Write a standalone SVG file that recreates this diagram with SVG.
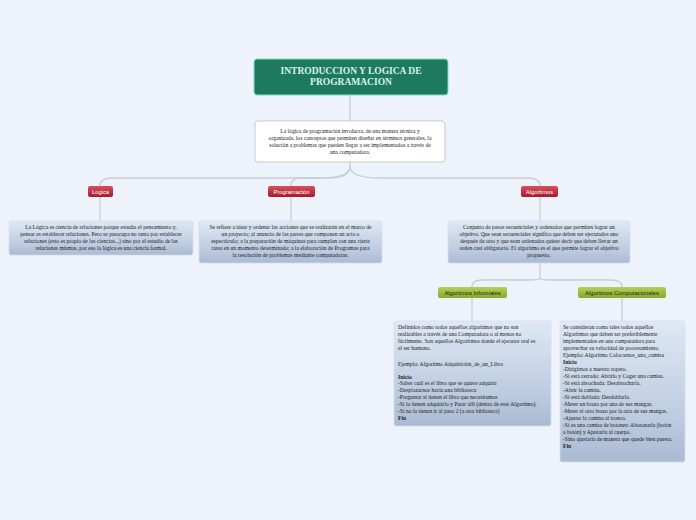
<svg xmlns="http://www.w3.org/2000/svg" width="696" height="520" viewBox="0 0 696 520">
<defs>
<linearGradient id="gb" x1="0" y1="0" x2="0" y2="1"><stop offset="0" stop-color="#dfe8f4"/><stop offset="0.7" stop-color="#bccbe0"/><stop offset="1" stop-color="#a9bad3"/></linearGradient>
<linearGradient id="gr" x1="0" y1="0" x2="0" y2="1"><stop offset="0" stop-color="#d8505e"/><stop offset="1" stop-color="#a8192c"/></linearGradient>
<linearGradient id="gg" x1="0" y1="0" x2="0" y2="1"><stop offset="0" stop-color="#b6cf5a"/><stop offset="1" stop-color="#8aa82a"/></linearGradient>
</defs>
<style>
.t{font-family:"Liberation Serif",serif;font-size:5.6px;fill:#222}
.c{text-anchor:middle}
.l{font-family:"Liberation Sans",sans-serif;font-size:5.8px;text-anchor:middle}
.w{fill:#fff}
.k{fill:#222}
.box{fill:url(#gb);stroke:#d6deea;stroke-width:0.8}
.conn path{fill:none;stroke:#c9cdd4;stroke-width:1.3}
</style>
<rect width="696" height="520" fill="#eef2fb"/>
<g class="conn">
<path d="M350 95V121"/>
<path d="M350 162V166Q350 178 330 178H112Q100 178 100 186"/>
<path d="M350 166Q350 178 320 178H300Q291 178 291 186"/>
<path d="M350 166Q350 178 380 178H528Q540 178 540 186"/>
<path d="M100 197V221"/>
<path d="M291 197V221"/>
<path d="M540 197V221"/>
<path d="M540 263V278Q540 280 530 280H482Q472 280 472 287"/>
<path d="M540 278Q540 280 550 280H612Q622 280 622 287"/>
<path d="M472 298V321"/>
<path d="M622 298V321"/>
</g>
<g id="title"><rect x="254" y="59" width="194" height="36" rx="3" fill="#1d7a5f" stroke="#7fe0c0" stroke-width="1"/>
<text x="351" y="74" font-family="Liberation Serif,serif" font-size="9.5" font-weight="bold" fill="#d9f2e8" text-anchor="middle">INTRODUCCION Y LOGICA DE</text>
<text x="351" y="85" font-family="Liberation Serif,serif" font-size="9.5" font-weight="bold" fill="#d9f2e8" text-anchor="middle">PROGRAMACION</text></g>
<g id="desc"><rect x="255" y="121" width="190" height="41" rx="3" fill="#fff" stroke="#b9bec6" stroke-width="0.8"/>
<text class="t c"><tspan x="350" y="133">La lógica de programación involucra, de una manera técnica y</tspan><tspan x="350" y="140">organizada, los conceptos que permiten diseñar en términos generales, la</tspan><tspan x="350" y="147">solución a problemas que pueden llegar a ser implementados a través de</tspan><tspan x="350" y="154">una computadora.</tspan></text></g>
<g id="logica"><rect x="88" y="186" width="25" height="11" rx="2" fill="url(#gr)"/><text class="l w" x="100.5" y="193.8">Logica</text></g>
<g id="programacion"><rect x="268" y="186" width="47" height="11" rx="2" fill="url(#gr)"/><text class="l w" x="291.5" y="193.8">Programación</text></g>
<g id="algoritmos"><rect x="521" y="186" width="37" height="11" rx="2" fill="url(#gr)"/><text class="l w" x="539.5" y="193.8">Algoritmos</text></g>
<g id="logica-txt"><rect class="box" x="9" y="221" width="184" height="34" rx="2"/>
<text class="t c"><tspan x="101" y="229">La Lógica es ciencia de relaciones porque estudia el pensamiento y,</tspan><tspan x="101" y="236">pensar es establecer relaciones. Pero se preocupa no tanto por establecer</tspan><tspan x="101" y="243">relaciones (esto es propio de las ciencias...) sino por el estudio de las</tspan><tspan x="101" y="250">relaciones mismas, por eso la lógica es una ciencia formal.</tspan></text></g>
<g id="prog-txt"><rect class="box" x="199" y="221" width="183" height="42" rx="2"/>
<text class="t c"><tspan x="290.5" y="229">Se refiere a idear y ordenar las acciones que se realizarán en el marco de</tspan><tspan x="290.5" y="236">un proyecto; al anuncio de las partes que componen un acto o</tspan><tspan x="290.5" y="243">espectáculo; a la preparación de máquinas para cumplan con una cierta</tspan><tspan x="290.5" y="250">tarea en un momento determinado; a la elaboración de Programas para</tspan><tspan x="290.5" y="257">la resolución de problemas mediante computadoras.</tspan></text></g>
<g id="alg-txt"><rect class="box" x="448" y="221" width="182" height="42" rx="2"/>
<text class="t c"><tspan x="539" y="229">Conjunto de pasos secuenciales y ordenados que permiten lograr un</tspan><tspan x="539" y="236">objetivo. Que sean secuenciales significa que deben ser ejecutados uno</tspan><tspan x="539" y="243">después de otro y que sean ordenados quiere decir que deben llevar un</tspan><tspan x="539" y="250">orden casi obligatorio. El algoritmo es el que permite lograr el objetivo</tspan><tspan x="539" y="257">propuesto.</tspan></text></g>
<g id="alg-inf"><rect x="438" y="287" width="69" height="11" rx="2" fill="url(#gg)"/><text class="l k" x="472.5" y="294.8">Algoritmos Informales</text></g>
<g id="alg-comp"><rect x="578" y="287" width="88" height="11" rx="2" fill="url(#gg)"/><text class="l k" x="622" y="294.8">Algoritmos Computacionales</text></g>
<g id="inf-txt"><rect class="box" x="394" y="321" width="157" height="105" rx="2"/>
<text class="t"><tspan x="398" y="329">Definidos como todos aquellos algoritmos que no son</tspan><tspan x="398" y="336">realizables a través de una Computadora o al menos no</tspan><tspan x="398" y="343">fácilmente. Son aquellos Algoritmos donde el ejecutor real es</tspan><tspan x="398" y="350">el ser humano.</tspan><tspan x="398" y="366">Ejemplo: Algoritmo Adquisición_de_un_Libro</tspan><tspan x="398" y="379" font-weight="bold">Inicio</tspan><tspan x="398" y="385">-Saber cuál es el libro que se quiere adquirir</tspan><tspan x="398" y="392">-Desplazarnos hacia una biblioteca</tspan><tspan x="398" y="399">-Preguntar si tienen el libro que necesitamos</tspan><tspan x="398" y="406">-Si lo tienen adquirirlo y Parar allí (dentro de este Algoritmo).</tspan><tspan x="398" y="413">-Si no lo tienen ir al paso 2 (a otra biblioteca)</tspan><tspan x="398" y="420" font-weight="bold">Fin</tspan></text></g>
<g id="comp-txt"><rect class="box" x="560" y="321" width="125" height="141" rx="2"/>
<text class="t"><tspan x="563" y="329">Se consideran como tales todos aquellos</tspan><tspan x="563" y="336">Algoritmos que deben ser preferiblemente</tspan><tspan x="563" y="343">implementados en una computadora para</tspan><tspan x="563" y="350">aprovechar su velocidad de procesamiento.</tspan><tspan x="563" y="357">Ejemplo: Algoritmo Colocarnos_una_camisa</tspan><tspan x="563" y="364" font-weight="bold">Inicio</tspan><tspan x="563" y="371">-Dirigirnos a nuestro ropero.</tspan><tspan x="563" y="378">-Si está cerrado: Abrirlo y Coger una camisa.</tspan><tspan x="563" y="385">-Si está abrochada: Desabrocharla.</tspan><tspan x="563" y="392">-Abrir la camisa.</tspan><tspan x="563" y="399">-Si está doblada: Desdoblarla.</tspan><tspan x="563" y="406">-Meter un brazo por una de sus mangas.</tspan><tspan x="563" y="413">-Meter el otro brazo por la otra de sus mangas.</tspan><tspan x="563" y="420">-Ajustar la camisa al tronco.</tspan><tspan x="563" y="427">-Si es una camisa de botones: Abotonarla (botón</tspan><tspan x="563" y="434">a botón) y Ajustarla al cuerpo.</tspan><tspan x="563" y="441">-Sino ajustarla de manera que quede bien puesta.</tspan><tspan x="563" y="448" font-weight="bold">Fin</tspan></text></g>
</svg>
